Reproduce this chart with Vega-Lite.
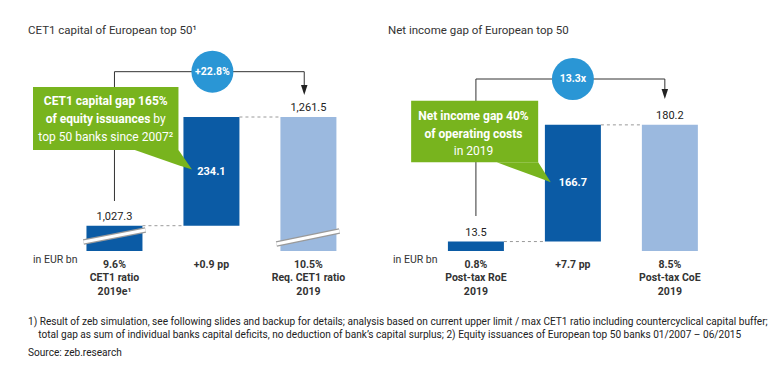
{
  "$schema": "https://vega.github.io/schema/vega-lite/v6.json",
  "background": "white",
  "padding": {"left": 28, "top": 24, "right": 2, "bottom": 2},
  "config": {
    "view": {"stroke": null},
    "font": "Roboto, Liberation Sans, sans-serif",
    "concat": {"spacing": 29}
  },
  "title": {
    "text": [
      "1) Result of zeb simulation, see following slides and backup for details; analysis based on current upper limit / max CET1 ratio including countercyclical capital buffer;",
      "\u200b\u2003total gap as sum of individual banks capital deficits, no deduction of bank’s capital surplus; 2) Equity issuances of European top 50 banks 01/2007 – 06/2015"
    ],
    "subtitle": "Source: zeb.research",
    "orient": "bottom",
    "anchor": "start",
    "offset": 20,
    "fontSize": 10.1,
    "fontWeight": "normal",
    "color": "#222",
    "lineHeight": 13,
    "subtitleFontSize": 10.1,
    "subtitleColor": "#222",
    "subtitlePadding": 8
  },
  "datasets": {
    "cetBars": [
      {"pos": 1, "value": 1027.3, "prev": null, "kind": "total", "shade": "dark", "label": "1,027.3", "cat": "9.6%\nCET1 ratio\n2019e¹"},
      {"pos": 2, "value": 1261.4, "prev": 1027.3, "kind": "delta", "shade": "dark", "label": "234.1", "cat": "+0.9 pp"},
      {"pos": 3, "value": 1261.5, "prev": null, "kind": "total", "shade": "light", "label": "1,261.5", "cat": "10.5%\nReq. CET1 ratio\n2019"}
    ],
    "niBars": [
      {"pos": 1, "value": 13.5, "prev": null, "kind": "total", "shade": "dark", "label": "13.5", "cat": "0.8%\nPost-tax RoE\n2019"},
      {"pos": 2, "value": 180.2, "prev": 13.5, "kind": "delta", "shade": "dark", "label": "166.7", "cat": "+7.7 pp"},
      {"pos": 3, "value": 180.2, "prev": null, "kind": "total", "shade": "light", "label": "180.2", "cat": "8.5%\nPost-tax CoE\n2019"}
    ]
  },
  "hconcat": [
    {
      "width": 331,
      "height": 212,
      "title": {"text": "CET1 capital of European top 50¹", "anchor": "start", "fontSize": 11.5, "fontWeight": "normal", "color": "#333", "offset": 3},
      "layer": [
        {
          "mark": {"type": "rule", "color": "#8c8c8c", "strokeWidth": 1},
          "encoding": {"y": {"datum": 1429.4, "type": "quantitative", "scale": {"domain": [972.8, 1429.4], "nice": false, "zero": false}, "axis": null}}
        },
        {
          "mark": {"type": "rule", "color": "#8c8c8c", "strokeWidth": 1},
          "encoding": {"y": {"datum": 972.8, "type": "quantitative", "scale": {"domain": [972.8, 1429.4], "nice": false, "zero": false}, "axis": null}}
        },
        {
          "data": {"name": "cetBars"},
          "transform": [{"filter": "datum.kind == 'total'"}],
          "mark": {"type": "bar", "width": 56},
          "encoding": {
            "x": {"field": "pos", "type": "quantitative", "scale": {"domain": [0.16, 3.47], "nice": false, "zero": false}, "axis": null},
            "y": {"field": "value", "type": "quantitative", "scale": {"domain": [972.8, 1429.4], "nice": false, "zero": false}, "axis": null},
            "y2": {"datum": 972.8},
            "color": {"field": "shade", "type": "nominal", "scale": {"domain": ["dark", "light"], "range": ["#0b5ba5", "#9bb9df"]}, "legend": null}
          }
        },
        {
          "data": {"name": "cetBars"},
          "transform": [{"filter": "datum.kind == 'delta'"}],
          "mark": {"type": "bar", "width": 56},
          "encoding": {
            "x": {"field": "pos", "type": "quantitative", "scale": {"domain": [0.16, 3.47], "nice": false, "zero": false}, "axis": null},
            "y": {"field": "value", "type": "quantitative", "scale": {"domain": [972.8, 1429.4], "nice": false, "zero": false}, "axis": null},
            "y2": {"field": "prev"},
            "color": {"field": "shade", "type": "nominal", "scale": {"domain": ["dark", "light"], "range": ["#0b5ba5", "#9bb9df"]}, "legend": null}
          }
        },
        {
          "data": {"name": "cetBars"},
          "mark": {"type": "text", "fontSize": 10.5, "fontWeight": "bold", "color": "#333", "baseline": "top", "dy": 8.5, "lineBreak": "\n", "lineHeight": 13.5},
          "encoding": {
            "x": {"field": "pos", "type": "quantitative", "scale": {"domain": [0.16, 3.47], "nice": false, "zero": false}, "axis": null},
            "y": {"datum": 972.8, "type": "quantitative", "scale": {"domain": [972.8, 1429.4], "nice": false, "zero": false}, "axis": null},
            "text": {"field": "cat"}
          }
        },
        {
          "data": {"values": [{"a": 0.68, "b": 1.32, "lo": 992.2, "hi": 1018.0}, {"a": 2.67, "b": 3.32, "lo": 987.9, "hi": 1015.9}]},
          "mark": {"type": "rule", "color": "#9a9a9a", "strokeWidth": 5.5},
          "encoding": {
            "x": {"field": "a", "type": "quantitative", "scale": {"domain": [0.16, 3.47], "nice": false, "zero": false}, "axis": null},
            "x2": {"field": "b"},
            "y": {"field": "lo", "type": "quantitative", "scale": {"domain": [972.8, 1429.4], "nice": false, "zero": false}, "axis": null},
            "y2": {"field": "hi"}
          }
        },
        {
          "data": {"values": [{"a": 0.68, "b": 1.32, "lo": 992.2, "hi": 1018.0}, {"a": 2.67, "b": 3.32, "lo": 987.9, "hi": 1015.9}]},
          "mark": {"type": "rule", "color": "white", "strokeWidth": 3.2},
          "encoding": {
            "x": {"field": "a", "type": "quantitative", "scale": {"domain": [0.16, 3.47], "nice": false, "zero": false}, "axis": null},
            "x2": {"field": "b"},
            "y": {"field": "lo", "type": "quantitative", "scale": {"domain": [972.8, 1429.4], "nice": false, "zero": false}, "axis": null},
            "y2": {"field": "hi"}
          }
        },
        {
          "data": {"values": [{"from": 1, "to": 2, "level": 1027.3}, {"from": 2, "to": 3, "level": 1261.4}]},
          "mark": {"type": "rule", "color": "#9a9a9a", "strokeWidth": 1, "strokeDash": [3, 3], "xOffset": 28, "x2Offset": -28},
          "encoding": {
            "x": {"field": "from", "type": "quantitative", "scale": {"domain": [0.16, 3.47], "nice": false, "zero": false}, "axis": null},
            "x2": {"field": "to"},
            "y": {"field": "level", "type": "quantitative", "scale": {"domain": [972.8, 1429.4], "nice": false, "zero": false}, "axis": null}
          }
        },
        {
          "data": {"name": "cetBars"},
          "transform": [{"filter": "datum.kind == 'total'"}],
          "mark": {"type": "text", "fontSize": 11, "color": "#222", "baseline": "middle", "dy": -8.5},
          "encoding": {
            "x": {"field": "pos", "type": "quantitative", "scale": {"domain": [0.16, 3.47], "nice": false, "zero": false}, "axis": null},
            "y": {"field": "value", "type": "quantitative", "scale": {"domain": [972.8, 1429.4], "nice": false, "zero": false}, "axis": null},
            "text": {"field": "label"}
          }
        },
        {
          "data": {"name": "cetBars"},
          "transform": [{"filter": "datum.kind == 'delta'"}],
          "mark": {"type": "text", "fontSize": 11, "fontWeight": "bold", "color": "white", "baseline": "middle", "dy": 54.5},
          "encoding": {
            "x": {"field": "pos", "type": "quantitative", "scale": {"domain": [0.16, 3.47], "nice": false, "zero": false}, "axis": null},
            "y": {"field": "value", "type": "quantitative", "scale": {"domain": [972.8, 1429.4], "nice": false, "zero": false}, "axis": null},
            "text": {"field": "label"}
          }
        },
        {
          "data": {"values": [{"a": 0.16, "v": 953.4, "t": "in EUR bn"}]},
          "mark": {"type": "text", "fontSize": 10.5, "color": "#333", "align": "left", "baseline": "middle"},
          "encoding": {
            "x": {"field": "a", "type": "quantitative", "scale": {"domain": [0.16, 3.47], "nice": false, "zero": false}, "axis": null},
            "y": {"field": "v", "type": "quantitative", "scale": {"domain": [972.8, 1429.4], "nice": false, "zero": false}, "axis": null},
            "text": {"field": "t"}
          }
        },
        {
          "data": {"values": [{"a": 1, "b": 1, "lo": 1080.5, "hi": 1359.0}, {"a": 1, "b": 2.957, "lo": 1359.0, "hi": 1359.0}, {"a": 2.957, "b": 2.957, "lo": 1324.0, "hi": 1359.0}]},
          "mark": {"type": "rule", "color": "#333", "strokeWidth": 1},
          "encoding": {
            "x": {"field": "a", "type": "quantitative", "scale": {"domain": [0.16, 3.47], "nice": false, "zero": false}, "axis": null},
            "x2": {"field": "b"},
            "y": {"field": "lo", "type": "quantitative", "scale": {"domain": [972.8, 1429.4], "nice": false, "zero": false}, "axis": null},
            "y2": {"field": "hi"}
          }
        },
        {
          "data": {"values": [{"a": 2.957, "v": 1319.6}]},
          "mark": {"type": "point", "filled": true, "color": "#222", "opacity": 1, "size": 100, "shape": "M-0.65,-1L0.65,-1L0,1Z"},
          "encoding": {
            "x": {"field": "a", "type": "quantitative", "scale": {"domain": [0.16, 3.47], "nice": false, "zero": false}, "axis": null},
            "y": {"field": "v", "type": "quantitative", "scale": {"domain": [972.8, 1429.4], "nice": false, "zero": false}, "axis": null}
          }
        },
        {
          "data": {"values": [{"a": 0.16, "b": 1.66, "lo": 1190.3, "hi": 1326.0}]},
          "mark": {"type": "rect", "color": "#78b41e"},
          "encoding": {
            "x": {"field": "a", "type": "quantitative", "scale": {"domain": [0.16, 3.47], "nice": false, "zero": false}, "axis": null},
            "x2": {"field": "b"},
            "y": {"field": "lo", "type": "quantitative", "scale": {"domain": [972.8, 1429.4], "nice": false, "zero": false}, "axis": null},
            "y2": {"field": "hi"}
          }
        },
        {
          "data": {"values": [{"a": 1.21, "lo": 1190.3, "hi": 1190.3}, {"a": 1.66, "lo": 1190.3, "hi": 1157.5}, {"a": 1.80, "lo": 1148.3, "hi": 1148.3}]},
          "mark": {"type": "area", "color": "#78b41e", "opacity": 1, "orient": "vertical"},
          "encoding": {
            "x": {"field": "a", "type": "quantitative", "scale": {"domain": [0.16, 3.47], "nice": false, "zero": false}, "axis": null},
            "y": {"field": "lo", "type": "quantitative", "scale": {"domain": [972.8, 1429.4], "nice": false, "zero": false}, "axis": null},
            "y2": {"field": "hi"}
          }
        },
        {
          "data": {"values": [{"a": 0.91, "v": 1296.9, "t": "CET1 capital gap 165%"}, {"a": 1.37, "v": 1257.1, "t": "of equity issuances"}]},
          "mark": {"type": "text", "fontSize": 12, "fontWeight": "bold", "color": "white", "baseline": "middle", "align": {"expr": "datum.a > 1 ? 'right' : 'center'"}},
          "encoding": {
            "x": {"field": "a", "type": "quantitative", "scale": {"domain": [0.16, 3.47], "nice": false, "zero": false}, "axis": null},
            "y": {"field": "v", "type": "quantitative", "scale": {"domain": [972.8, 1429.4], "nice": false, "zero": false}, "axis": null},
            "text": {"field": "t"}
          }
        },
        {
          "data": {"values": [{"a": 1.37, "v": 1257.1, "t": "by"}]},
          "mark": {"type": "text", "fontSize": 12, "color": "white", "baseline": "middle", "align": "left", "dx": 3},
          "encoding": {
            "x": {"field": "a", "type": "quantitative", "scale": {"domain": [0.16, 3.47], "nice": false, "zero": false}, "axis": null},
            "y": {"field": "v", "type": "quantitative", "scale": {"domain": [972.8, 1429.4], "nice": false, "zero": false}, "axis": null},
            "text": {"field": "t"}
          }
        },
        {
          "data": {"values": [{"a": 0.91, "v": 1219.4, "t": "top 50 banks since 2007²"}]},
          "mark": {"type": "text", "fontSize": 12, "color": "white", "baseline": "middle", "align": "center"},
          "encoding": {
            "x": {"field": "a", "type": "quantitative", "scale": {"domain": [0.16, 3.47], "nice": false, "zero": false}, "axis": null},
            "y": {"field": "v", "type": "quantitative", "scale": {"domain": [972.8, 1429.4], "nice": false, "zero": false}, "axis": null},
            "text": {"field": "t"}
          }
        },
        {
          "data": {"values": [{"a": 2.01, "v": 1359.0, "t": "+22.8%"}]},
          "layer": [
            {"mark": {"type": "point", "shape": "circle", "filled": true, "color": "#2a96d5", "opacity": 1, "size": 1764}},
            {"mark": {"type": "text", "fontSize": 10.5, "fontWeight": "bold", "color": "white", "baseline": "middle"}, "encoding": {"text": {"field": "t"}}}
          ],
          "encoding": {
            "x": {"field": "a", "type": "quantitative", "scale": {"domain": [0.16, 3.47], "nice": false, "zero": false}, "axis": null},
            "y": {"field": "v", "type": "quantitative", "scale": {"domain": [972.8, 1429.4], "nice": false, "zero": false}, "axis": null}
          }
        }
      ]
    },
    {
      "width": 331,
      "height": 212,
      "title": {"text": "Net income gap of European top 50", "anchor": "start", "fontSize": 11.5, "fontWeight": "normal", "color": "#333", "offset": 3},
      "layer": [
        {
          "mark": {"type": "rule", "color": "#8c8c8c", "strokeWidth": 1},
          "encoding": {"y": {"datum": 302.86, "type": "quantitative", "scale": {"domain": [0, 302.86], "nice": false, "zero": false}, "axis": null}}
        },
        {
          "mark": {"type": "rule", "color": "#8c8c8c", "strokeWidth": 1},
          "encoding": {"y": {"datum": 0, "type": "quantitative", "scale": {"domain": [0, 302.86], "nice": false, "zero": false}, "axis": null}}
        },
        {
          "data": {"name": "niBars"},
          "transform": [{"filter": "datum.kind == 'total'"}],
          "mark": {"type": "bar", "width": 56},
          "encoding": {
            "x": {"field": "pos", "type": "quantitative", "scale": {"domain": [0.145, 3.455], "nice": false, "zero": false}, "axis": null},
            "y": {"field": "value", "type": "quantitative", "scale": {"domain": [0, 302.86], "nice": false, "zero": false}, "axis": null},
            "y2": {"datum": 0},
            "color": {"field": "shade", "type": "nominal", "scale": {"domain": ["dark", "light"], "range": ["#0b5ba5", "#9bb9df"]}, "legend": null}
          }
        },
        {
          "data": {"name": "niBars"},
          "transform": [{"filter": "datum.kind == 'delta'"}],
          "mark": {"type": "bar", "width": 56},
          "encoding": {
            "x": {"field": "pos", "type": "quantitative", "scale": {"domain": [0.145, 3.455], "nice": false, "zero": false}, "axis": null},
            "y": {"field": "value", "type": "quantitative", "scale": {"domain": [0, 302.86], "nice": false, "zero": false}, "axis": null},
            "y2": {"field": "prev"},
            "color": {"field": "shade", "type": "nominal", "scale": {"domain": ["dark", "light"], "range": ["#0b5ba5", "#9bb9df"]}, "legend": null}
          }
        },
        {
          "data": {"name": "niBars"},
          "mark": {"type": "text", "fontSize": 10.5, "fontWeight": "bold", "color": "#333", "baseline": "top", "dy": 8.5, "lineBreak": "\n", "lineHeight": 13.5},
          "encoding": {
            "x": {"field": "pos", "type": "quantitative", "scale": {"domain": [0.145, 3.455], "nice": false, "zero": false}, "axis": null},
            "y": {"datum": 0, "type": "quantitative", "scale": {"domain": [0, 302.86], "nice": false, "zero": false}, "axis": null},
            "text": {"field": "cat"}
          }
        },
        {
          "data": {"values": [{"from": 1, "to": 2, "level": 13.5}, {"from": 2, "to": 3, "level": 180.2}]},
          "mark": {"type": "rule", "color": "#9a9a9a", "strokeWidth": 1, "strokeDash": [3, 3], "xOffset": 28, "x2Offset": -28},
          "encoding": {
            "x": {"field": "from", "type": "quantitative", "scale": {"domain": [0.145, 3.455], "nice": false, "zero": false}, "axis": null},
            "x2": {"field": "to"},
            "y": {"field": "level", "type": "quantitative", "scale": {"domain": [0, 302.86], "nice": false, "zero": false}, "axis": null}
          }
        },
        {
          "data": {"name": "niBars"},
          "transform": [{"filter": "datum.kind == 'total'"}],
          "mark": {"type": "text", "fontSize": 11, "color": "#222", "baseline": "middle", "dy": -8.5},
          "encoding": {
            "x": {"field": "pos", "type": "quantitative", "scale": {"domain": [0.145, 3.455], "nice": false, "zero": false}, "axis": null},
            "y": {"field": "value", "type": "quantitative", "scale": {"domain": [0, 302.86], "nice": false, "zero": false}, "axis": null},
            "text": {"field": "label"}
          }
        },
        {
          "data": {"name": "niBars"},
          "transform": [{"filter": "datum.kind == 'delta'"}],
          "mark": {"type": "text", "fontSize": 11, "fontWeight": "bold", "color": "white", "baseline": "middle", "dy": 58.5},
          "encoding": {
            "x": {"field": "pos", "type": "quantitative", "scale": {"domain": [0.145, 3.455], "nice": false, "zero": false}, "axis": null},
            "y": {"field": "value", "type": "quantitative", "scale": {"domain": [0, 302.86], "nice": false, "zero": false}, "axis": null},
            "text": {"field": "label"}
          }
        },
        {
          "data": {"values": [{"a": 0.145, "v": -12.9, "t": "in EUR bn"}]},
          "mark": {"type": "text", "fontSize": 10.5, "color": "#333", "align": "left", "baseline": "middle"},
          "encoding": {
            "x": {"field": "a", "type": "quantitative", "scale": {"domain": [0.145, 3.455], "nice": false, "zero": false}, "axis": null},
            "y": {"field": "v", "type": "quantitative", "scale": {"domain": [0, 302.86], "nice": false, "zero": false}, "axis": null},
            "text": {"field": "t"}
          }
        },
        {
          "data": {"values": [{"a": 1, "b": 1, "lo": 50.0, "hi": 245.7}, {"a": 1, "b": 2.948, "lo": 245.7, "hi": 245.7}, {"a": 2.948, "b": 2.948, "lo": 228.6, "hi": 245.7}]},
          "mark": {"type": "rule", "color": "#333", "strokeWidth": 1},
          "encoding": {
            "x": {"field": "a", "type": "quantitative", "scale": {"domain": [0.145, 3.455], "nice": false, "zero": false}, "axis": null},
            "x2": {"field": "b"},
            "y": {"field": "lo", "type": "quantitative", "scale": {"domain": [0, 302.86], "nice": false, "zero": false}, "axis": null},
            "y2": {"field": "hi"}
          }
        },
        {
          "data": {"values": [{"a": 2.948, "v": 224.3}]},
          "mark": {"type": "point", "filled": true, "color": "#222", "opacity": 1, "size": 100, "shape": "M-0.65,-1L0.65,-1L0,1Z"},
          "encoding": {
            "x": {"field": "a", "type": "quantitative", "scale": {"domain": [0.145, 3.455], "nice": false, "zero": false}, "axis": null},
            "y": {"field": "v", "type": "quantitative", "scale": {"domain": [0, 302.86], "nice": false, "zero": false}, "axis": null}
          }
        },
        {
          "data": {"values": [{"a": 0.332, "b": 1.642, "lo": 126.7, "hi": 214.7}]},
          "mark": {"type": "rect", "color": "#78b41e"},
          "encoding": {
            "x": {"field": "a", "type": "quantitative", "scale": {"domain": [0.145, 3.455], "nice": false, "zero": false}, "axis": null},
            "x2": {"field": "b"},
            "y": {"field": "lo", "type": "quantitative", "scale": {"domain": [0, 302.86], "nice": false, "zero": false}, "axis": null},
            "y2": {"field": "hi"}
          }
        },
        {
          "data": {"values": [{"a": 1.215, "lo": 126.7, "hi": 126.7}, {"a": 1.642, "lo": 126.7, "hi": 104.9}, {"a": 1.772, "lo": 98.1, "hi": 98.1}]},
          "mark": {"type": "area", "color": "#78b41e", "opacity": 1, "orient": "vertical"},
          "encoding": {
            "x": {"field": "a", "type": "quantitative", "scale": {"domain": [0.145, 3.455], "nice": false, "zero": false}, "axis": null},
            "y": {"field": "lo", "type": "quantitative", "scale": {"domain": [0, 302.86], "nice": false, "zero": false}, "axis": null},
            "y2": {"field": "hi"}
          }
        },
        {
          "data": {"values": [{"a": 0.975, "v": 193.3, "t": "Net income gap 40%"}, {"a": 0.975, "v": 167.1, "t": "of operating costs"}]},
          "mark": {"type": "text", "fontSize": 12, "fontWeight": "bold", "color": "white", "baseline": "middle", "align": "center"},
          "encoding": {
            "x": {"field": "a", "type": "quantitative", "scale": {"domain": [0.145, 3.455], "nice": false, "zero": false}, "axis": null},
            "y": {"field": "v", "type": "quantitative", "scale": {"domain": [0, 302.86], "nice": false, "zero": false}, "axis": null},
            "text": {"field": "t"}
          }
        },
        {
          "data": {"values": [{"a": 0.975, "v": 142.9, "t": "in 2019"}]},
          "mark": {"type": "text", "fontSize": 12, "color": "white", "baseline": "middle", "align": "center"},
          "encoding": {
            "x": {"field": "a", "type": "quantitative", "scale": {"domain": [0.145, 3.455], "nice": false, "zero": false}, "axis": null},
            "y": {"field": "v", "type": "quantitative", "scale": {"domain": [0, 302.86], "nice": false, "zero": false}, "axis": null},
            "text": {"field": "t"}
          }
        },
        {
          "data": {"values": [{"a": 2.0, "v": 245.7, "t": "13.3x"}]},
          "layer": [
            {"mark": {"type": "point", "shape": "circle", "filled": true, "color": "#2a96d5", "opacity": 1, "size": 1764}},
            {"mark": {"type": "text", "fontSize": 10.5, "fontWeight": "bold", "color": "white", "baseline": "middle"}, "encoding": {"text": {"field": "t"}}}
          ],
          "encoding": {
            "x": {"field": "a", "type": "quantitative", "scale": {"domain": [0.145, 3.455], "nice": false, "zero": false}, "axis": null},
            "y": {"field": "v", "type": "quantitative", "scale": {"domain": [0, 302.86], "nice": false, "zero": false}, "axis": null}
          }
        }
      ]
    }
  ]
}
